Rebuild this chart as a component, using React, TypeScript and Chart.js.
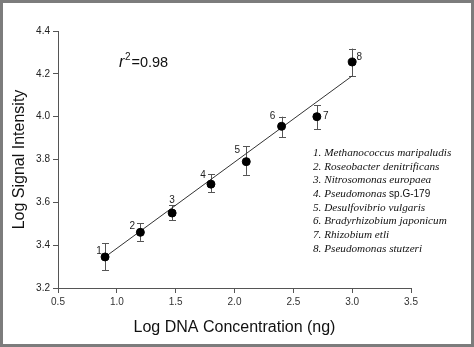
import React, { useEffect, useRef } from 'react';
import { Chart, registerables } from 'chart.js';
Chart.register(...registerables);

const concentration = [0.9, 1.2, 1.47, 1.8, 2.1, 2.4, 2.7, 3.0];
const signal = [3.345, 3.46, 3.55, 3.685, 3.79, 3.955, 4.0, 4.255];
const errLow = [3.284, 3.42, 3.517, 3.648, 3.728, 3.905, 3.942, 4.19];
const errHigh = [3.409, 3.503, 3.587, 3.732, 3.863, 4.0, 4.054, 4.318];
const pointLabels = ['1', '2', '3', '4', '5', '6', '7', '8'];
const fitX = [0.9, 3.0];
const fitY = [3.345, 4.19];
const species = [
  'Methanococcus maripaludis',
  'Roseobacter denitrificans',
  'Nitrosomonas europaea',
  'Pseudomonas sp.G-179',
  'Desulfovibrio vulgaris',
  'Bradyrhizobium japonicum',
  'Rhizobium etli',
  'Pseudomonas stutzeri',
];
const xRange = [0.5, 3.5];
const yRange = [3.2, 4.4];
const rSquared = '0.98';
const xTitle = 'Log DNA Concentration (ng)';
const yTitle = 'Log Signal Intensity';

const labelOffsets = [
  [-6, -6], [-8, -6], [0, -13], [-8, -9], [-9, -11], [-9, -10], [9, 0], [7, -5],
];

const decorPlugin = {
  id: 'decor',
  beforeDraw(chart: any) {
    const { ctx, width, height } = chart;
    ctx.save();
    ctx.fillStyle = '#ffffff';
    ctx.fillRect(0, 0, width, height);
    ctx.strokeStyle = '#7c7c7c';
    ctx.lineWidth = 3;
    ctx.strokeRect(1.5, 1.5, width - 3, height - 3);
    ctx.restore();
  },
  beforeDatasetsDraw(chart: any) {
    const { ctx, scales } = chart;
    const xs = scales.x, ys = scales.y;
    ctx.save();
    ctx.strokeStyle = '#555555';
    ctx.lineWidth = 1;
    concentration.forEach((cx, i) => {
      const px = Math.round(xs.getPixelForValue(cx)) + 0.5;
      const yl = ys.getPixelForValue(errLow[i]);
      const yh = ys.getPixelForValue(errHigh[i]);
      ctx.beginPath();
      ctx.moveTo(px, yl);
      ctx.lineTo(px, yh);
      ctx.moveTo(px - 3.5, Math.round(yl) + 0.5);
      ctx.lineTo(px + 3.5, Math.round(yl) + 0.5);
      ctx.moveTo(px - 3.5, Math.round(yh) + 0.5);
      ctx.lineTo(px + 3.5, Math.round(yh) + 0.5);
      ctx.stroke();
    });
    ctx.restore();
  },
  afterDraw(chart: any) {
    const { ctx, scales } = chart;
    const xs = scales.x, ys = scales.y;
    ctx.save();
    ctx.fillStyle = '#222222';
    ctx.font = '10px "Liberation Sans", Arial, sans-serif';
    ctx.textAlign = 'center';
    ctx.textBaseline = 'middle';
    concentration.forEach((cx, i) => {
      const px = xs.getPixelForValue(cx);
      const py = ys.getPixelForValue(signal[i]);
      ctx.fillText(pointLabels[i], px + labelOffsets[i][0], py + labelOffsets[i][1]);
    });
    ctx.textAlign = 'left';
    ctx.textBaseline = 'alphabetic';
    ctx.fillStyle = '#111111';
    ctx.font = 'italic 16px "Liberation Sans", Arial, sans-serif';
    ctx.fillText('r', 119, 67);
    ctx.font = '10px "Liberation Sans", Arial, sans-serif';
    ctx.fillText('2', 125, 60);
    ctx.font = '14.5px "Liberation Sans", Arial, sans-serif';
    ctx.fillText('=' + rSquared, 131.5, 67);
    ctx.textBaseline = 'middle';
    species.forEach((name, i) => {
      const y = 153 + i * 13.7;
      let x = 313;
      const idx = name.indexOf(' sp.');
      const italicPart = idx >= 0 ? name.slice(0, idx) : name;
      const rest = idx >= 0 ? name.slice(idx) : '';
      ctx.font = 'italic 11.2px "Liberation Serif", "Times New Roman", serif';
      const t = `${i + 1}. ${italicPart}`;
      ctx.fillText(t, x, y);
      x += ctx.measureText(t).width;
      if (rest) {
        ctx.font = '10px "Liberation Sans", Arial, sans-serif';
        ctx.fillText(rest, x, y);
      }
    });
    ctx.restore();
  },
};

export default function App() {
  const ref = useRef<HTMLCanvasElement>(null);
  useEffect(() => {
    document.body.style.margin = '0';
    const chart = new Chart(ref.current!, {
      type: 'scatter',
      data: {
        datasets: [
          {
            type: 'line',
            data: fitX.map((x, i) => ({ x, y: fitY[i] })),
            borderColor: '#333333',
            borderWidth: 1,
            pointRadius: 0,
            fill: false,
            order: 2,
          },
          {
            data: concentration.map((x, i) => ({ x, y: signal[i] })),
            backgroundColor: '#000000',
            borderColor: '#000000',
            pointRadius: 4,
            pointHoverRadius: 4,
            order: 1,
          },
        ],
      },
      plugins: [decorPlugin],
      options: {
        responsive: false,
        animation: false,
        layout: { padding: { top: 31, right: 63, left: 0, bottom: 0 } },
        plugins: { legend: { display: false }, tooltip: { enabled: false } },
        scales: {
          x: {
            type: 'linear',
            min: xRange[0],
            max: xRange[1],
            afterFit(scale: any) { scale.height = 59; },
            ticks: {
              stepSize: 0.5,
              padding: 3,
              color: '#333333',
              font: { size: 10, family: '"Liberation Sans", Arial, sans-serif' },
              callback: (v: any) => Number(v).toFixed(1),
            },
            grid: { drawOnChartArea: false, tickLength: 5, color: '#555555' },
            border: { display: true, color: '#555555' },
            title: {
              display: true,
              text: xTitle,
              color: '#111111',
              font: { size: 16, family: '"Liberation Sans", Arial, sans-serif' },
              padding: { top: 0, bottom: 10 },
            },
          },
          y: {
            type: 'linear',
            min: yRange[0],
            max: yRange[1],
            afterFit(scale: any) { scale.width = 58; },
            ticks: {
              stepSize: 0.2,
              padding: 3,
              color: '#222222',
              font: { size: 10, family: '"Liberation Sans", Arial, sans-serif' },
              callback: (v: any) => Number(v).toFixed(1),
            },
            grid: { drawOnChartArea: false, tickLength: 5, color: '#555555' },
            border: { display: true, color: '#555555' },
            title: {
              display: true,
              text: yTitle,
              color: '#111111',
              font: { size: 16, family: '"Liberation Sans", Arial, sans-serif' },
              padding: { top: 10, bottom: 0 },
            },
          },
        },
      },
    });
    return () => chart.destroy();
  }, []);
  return <canvas ref={ref} width={474} height={347} style={{ display: 'block', width: 474, height: 347 }} />;
}
